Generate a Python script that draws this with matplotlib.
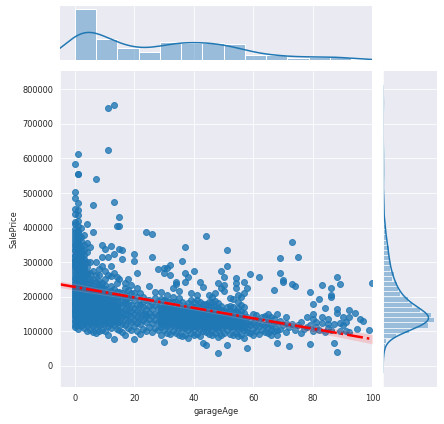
import numpy as np
import pandas as pd
import matplotlib
matplotlib.use("Agg")
import matplotlib.pyplot as plt
import seaborn as sns

# garageAge -> SalePrice (in thousands), one row per age
band_00_07 = [
    (0, "112 118 126 134 140 147 153 158 163 168 173 178 183 188 193 198 204 210 216 222 229 236 243 250 258 266 275 284 294 305 318 332 346 362 378 395 415 440 485 502 585 "
        "290 300 310 322 338 352 370 388 410 455"),
    (1, "108 117 124 130 136 142 147 152 156 160 164 168 172 176 180 184 188 192 196 200 204 208 212 216 220 225 230 235 240 245 250 256 262 268 274 280 287 294 301 309 317 325 334 344 355 366 378 390 404 420 436 452 556 556 613 "
        "262 284 298 312 330 348 360 372 386 470"),
    (2, "115 125 133 140 146 152 158 163 168 174 180 186 192 198 204 210 217 224 231 238 246 255 264 274 285 297 310 325 345 372 278 292 305 318 335 362 398"),
    (3, "110 122 132 140 147 154 160 166 172 178 184 190 197 204 211 218 226 235 245 256 268 282 300 322 350 262 290 310 336 380"),
    (4, "100 118 128 137 145 152 159 165 171 178 185 192 200 208 217 227 238 250 265 285 330 411 270 300 355"),
    (5, "105 120 130 139 147 154 161 168 175 182 190 198 206 215 225 236 250 270 300 345"),
    (6, "98 115 126 135 143 150 157 164 171 178 186 194 203 212 222 234 250 275 386 465"),
    (7, "95 112 124 134 143 151 159 167 175 183 192 202 213 226 242 262 300 540"),
]
band_08_14 = [
    (8, "100 118 130 140 149 157 165 173 181 190 200 212 226 245 280 235 262"),
    (9, "105 122 134 144 153 161 169 178 187 197 209 224 315 350 195 240 290"),
    (10, "102 120 132 142 151 159 167 175 184 194 206 222 250 339 212 235 275"),
    (11, "88 115 128 138 147 155 163 171 180 190 203 315 624 747 215 262"),
    (12, "110 125 136 145 153 161 169 178 188 200 218 260 348 230 290"),
    (13, "78 118 131 141 150 158 166 175 186 200 324 475 755 222 270"),
    (14, "106 124 136 146 155 164 174 185 198 215 240 405 258"),
]
band_15_28 = [
    (15, "105 128 145 160 178 200 339 404 431 215 250"),
    (16, "98 122 140 156 172 192 310 334 210"),
    (17, "88 118 135 150 165 182 205 240 190 225"),
    (18, "110 130 146 162 180 202 250 195 220"),
    (19, "105 127 143 158 175 198 235 212"),
    (20, "78 115 134 150 168 190 303 324 210"),
    (21, "100 124 142 158 176 200 270 225"),
    (22, "93 120 138 155 175 210 190"),
    (23, "108 132 150 170 200 185"),
    (24, "102 126 145 165 190 386 150"),
    (25, "112 135 152 172 230 190"),
    (26, "98 125 145 165 315 381 182"),
    (27, "110 132 150 175 215 195"),
    (28, "104 128 148 168 280 188"),
]
band_29_42 = [
    (29, "90 112 125 134 142 150 158 167 178 192 215 120 162"),
    (30, "69 105 120 130 138 145 152 160 168 178 190 268 284 135 172"),
    (31, "95 115 127 136 144 151 158 166 175 188 205 282 122 150"),
    (32, "92 113 125 134 142 149 156 164 174 186 263 291 128 160"),
    (33, "100 118 129 138 146 154 162 172 184 200 225 133 156"),
    (34, "96 116 128 137 145 153 162 172 185 236 242 125 148"),
    (35, "88 110 123 133 141 149 157 166 178 195 218 118 145"),
    (36, "85 108 120 130 138 145 152 160 170 185 303 125 142"),
    (37, "90 110 122 131 139 146 153 161 172 244 268 343 116 148"),
    (38, "82 105 118 128 136 143 150 158 168 182 258 123 140"),
    (39, "95 112 124 133 141 148 155 163 174 190 210 128 150"),
    (40, "88 108 120 130 138 145 152 160 171 186 275 115 142"),
    (41, "92 111 123 132 140 147 154 162 173 190 205 127 145"),
    (42, "86 106 119 129 137 144 151 159 170 185 244 120 140"),
]
band_43_57 = [
    (43, "66 100 115 126 135 142 149 156 165 178 227 120 138"),
    (44, "61 98 113 124 133 140 147 155 164 180 375 118 136"),
    (45, "92 110 122 131 139 146 153 161 171 186 205 125 143"),
    (46, "88 107 120 130 138 145 152 160 170 184 200 115 134"),
    (47, "95 112 124 133 140 147 154 162 172 188 210 120 138"),
    (48, "36 83 105 118 128 136 143 150 158 168 182 239 112 132"),
    (49, "90 110 122 131 139 146 153 162 174 225 274 126 142"),
    (50, "95 115 128 138 147 158 216 235 258 122 140"),
    (51, "60 105 122 134 144 155 170 290 336 118"),
    (52, "92 112 126 137 147 158 172 195 120 132"),
    (53, "88 110 124 135 145 156 170 192 116 130"),
    (54, "96 115 128 139 149 160 225 240 255 122"),
    (55, "85 106 120 131 141 152 166 185 205 115 136"),
    (56, "90 110 124 135 146 158 175 200 118 128"),
    (57, "80 104 118 130 141 153 170 211 242 112"),
]
band_58_100 = [
    (58, "53 98 112 125 140 225"), (59, "95 118 130 266"), (60, "88 108 125 150"),
    (61, "100 118 135 148"), (62, "92 115 132 258"), (63, "105 122 140"), (64, "98 118 145"),
    (65, "95 112 128 150 135"), (66, "90 118 140 105"), (67, "102 120 135 219"),
    (68, "67 105 125 150 90"), (69, "108 130 268 312"), (70, "118 244 249"), (71, "98 125 140"),
    (72, "57 112"), (73, "122 236 358"), (74, "105 230"), (75, "118 315"),
    (76, "128 95"), (77, "108"), (78, "140 112"),
    (79, "62 118 213"), (80, "100 135 178 150"), (81, "112 128"), (82, "105 192"),
    (83, "125 233 140"), (84, "98 168"), (85, "110 135 122"),
    (86, "200 206 225 105"), (87, "67 120"), (88, "41 154 164 256"), (89, "102 123 238"),
    (90, "118 142"), (91, "100 128"), (92, "97 140 161"),
    (94, "154"), (95, "107"), (96, "135"), (97, "131"), (99, "105"), (100, "239"),
]

filas = band_00_07 + band_08_14 + band_15_28 + band_29_42 + band_43_57 + band_58_100
garage_age = []
sale_price = []
for edad, precios in filas:
    for p in precios.split():
        garage_age.append(edad)
        sale_price.append(float(p) * 1000)
df = pd.DataFrame({"garageAge": garage_age, "SalePrice": sale_price})

sns.set_style("darkgrid")
plt.rcParams["font.size"] = 8.3

g = sns.JointGrid(data=df, x="garageAge", y="SalePrice", height=6, ratio=5, space=.2, xlim=(-5, 100))
g.plot_joint(sns.regplot, truncate=False,
             line_kws={"color": "red", "linestyle": "-.", "linewidth": 2.5})

# marginales al estilo distplot: histograma en densidad + kde con cut=3
sns.histplot(x=df["garageAge"], bins=14, stat="density", alpha=0.4, ax=g.ax_marg_x)
sns.kdeplot(x=df["garageAge"], cut=3, color="C0", linewidth=1.5, ax=g.ax_marg_x)
sns.histplot(y=df["SalePrice"], bins=48, stat="density", alpha=0.4, ax=g.ax_marg_y)
sns.kdeplot(y=df["SalePrice"], cut=3, bw_adjust=0.85, color="C0", linewidth=1.5, ax=g.ax_marg_y)
for ax in (g.ax_marg_x, g.ax_marg_y):
    ax.set_xlabel("")
    ax.set_ylabel("")
g.ax_marg_y.xaxis.offsetText.set_visible(False)
g.ax_marg_x.yaxis.offsetText.set_visible(False)

g.set_axis_labels("garageAge", "SalePrice")
g.ax_joint.set_xticks([0, 20, 40, 60, 80, 100])
g.ax_joint.set_yticks(np.arange(0, 900000, 100000))

g.figure.set_size_inches(444 / 72, 424 / 72)
g.figure.subplots_adjust(left=60 / 444, right=437 / 444, top=1 - 6 / 424, bottom=1 - 387 / 424)
g.figure.savefig("out.png", dpi=72)
